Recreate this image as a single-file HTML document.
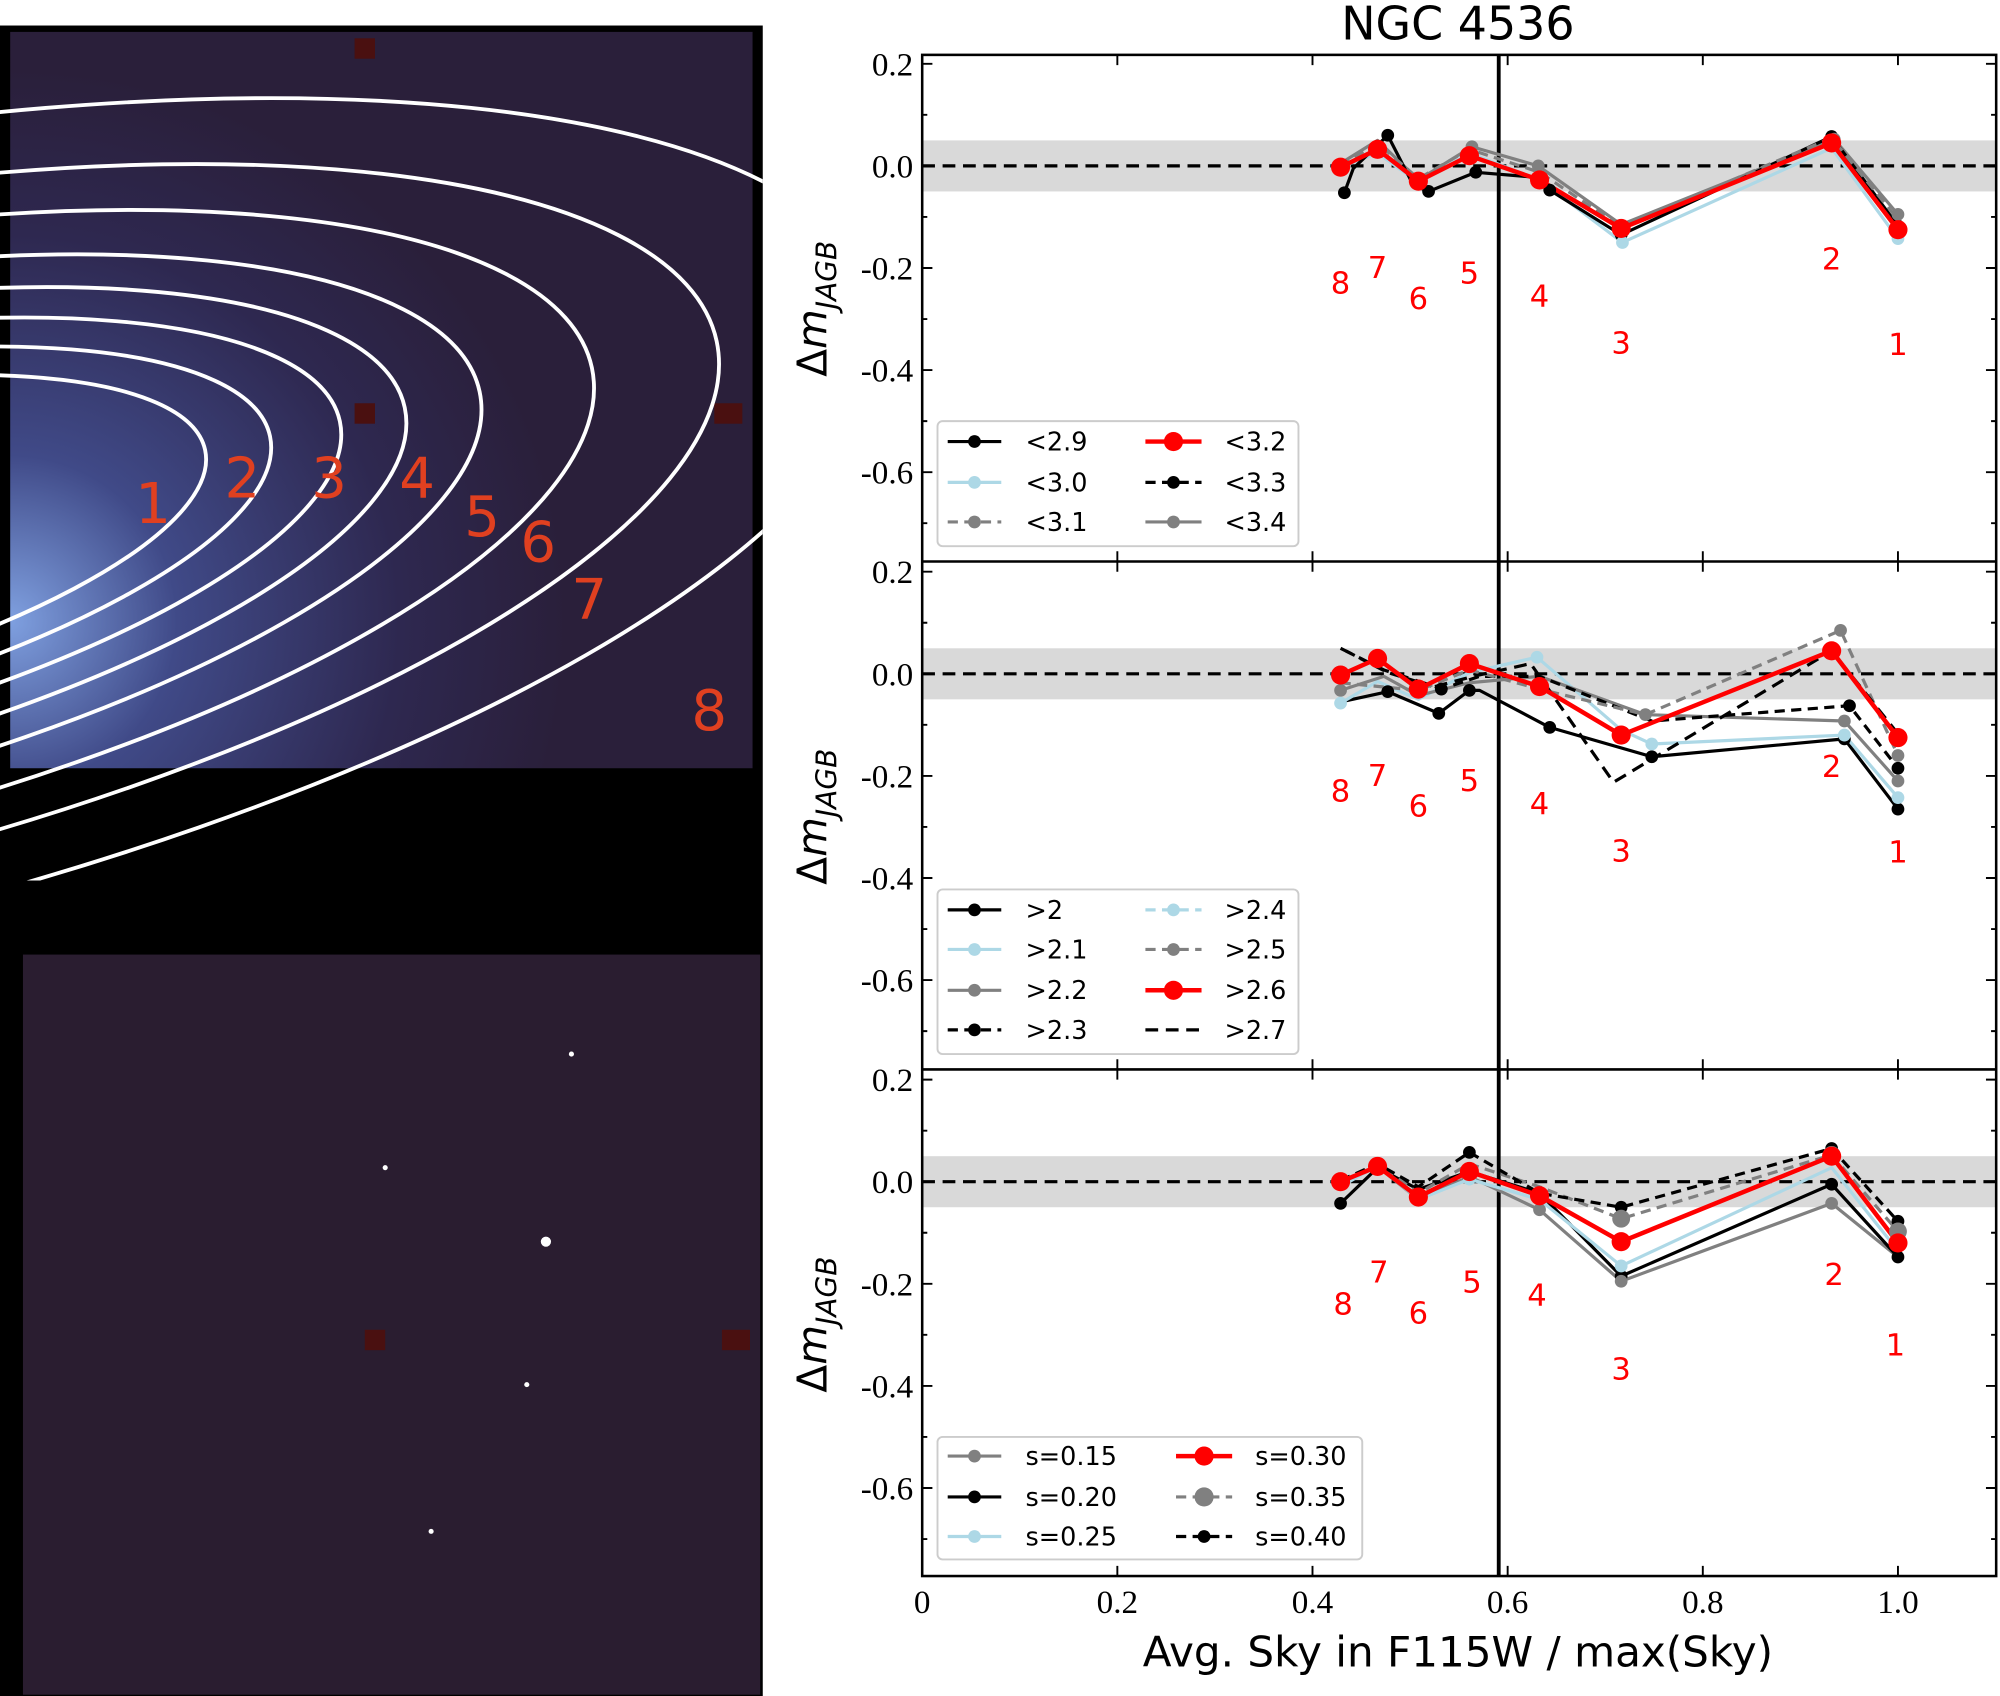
<!DOCTYPE html>
<html><head><meta charset="utf-8"><style>
html,body{margin:0;padding:0;background:#fff;}
svg{display:block;}
.t{font-family:"Liberation Serif",serif;font-size:26px;fill:#000;}
.s{font-family:"DejaVu Sans","Liberation Sans",sans-serif;}
.lg{font-family:"DejaVu Sans","Liberation Sans",sans-serif;font-size:20px;fill:#000;}
.rn{font-family:"DejaVu Sans","Liberation Sans",sans-serif;font-size:24px;fill:#f00;text-anchor:middle;}
</style></head><body>
<svg width="2000" height="1696" viewBox="0 0 1568 1329" preserveAspectRatio="none" xmlns="http://www.w3.org/2000/svg">
<defs>
<radialGradient id="glow" cx="0" cy="0.8" r="0.75">
<stop offset="0" stop-color="#7fa0e0"/><stop offset="0.3" stop-color="#404a88"/><stop offset="0.7" stop-color="#2e2850"/><stop offset="1" stop-color="#2a1f3a"/>
</radialGradient>
<clipPath id="cp"><rect x="0" y="20" width="598" height="670"/></clipPath>
</defs>
<rect x="0" y="20" width="598" height="1309" fill="#000"/>
<rect x="8" y="25" width="582" height="577" fill="url(#glow)"/>
<rect x="18" y="748" width="578" height="580" fill="#2a1d30"/>
<rect x="278" y="30" width="16" height="16" fill="#4a1010"/>
<rect x="278" y="316" width="16" height="16" fill="#4a1010"/>
<rect x="560" y="316" width="22" height="16" fill="#4a1010"/>
<rect x="286" y="1042" width="16" height="16" fill="#4a1010"/>
<rect x="566" y="1042" width="22" height="16" fill="#4a1010"/>
<g clip-path="url(#cp)" fill="none" stroke="#fff" stroke-width="3">
<g transform="rotate(-12 -250 440)">
<ellipse cx="-250" cy="440" rx="420" ry="120"/>
<ellipse cx="-250" cy="440" rx="472" ry="140"/>
<ellipse cx="-250" cy="440" rx="528" ry="160"/>
<ellipse cx="-250" cy="440" rx="580" ry="182"/>
<ellipse cx="-250" cy="440" rx="640" ry="205"/>
<ellipse cx="-250" cy="440" rx="730" ry="235"/>
<ellipse cx="-250" cy="440" rx="830" ry="265"/>
<ellipse cx="-250" cy="440" rx="960" ry="310"/>
</g></g>
<g class="s" font-size="44" fill="#e04020" text-anchor="middle">
<text x="120" y="410">1</text><text x="190" y="390">2</text><text x="258" y="390">3</text>
<text x="327" y="390">4</text><text x="378" y="420">5</text><text x="422" y="440">6</text>
<text x="462" y="485">7</text><text x="556" y="572">8</text></g>
<g fill="#fff"><circle cx="428" cy="973" r="4"/><circle cx="302" cy="915" r="2"/><circle cx="338" cy="1200" r="2"/><circle cx="448" cy="826" r="2"/><circle cx="413" cy="1085" r="2"/></g>

<text x="1143" y="31" class="s" font-size="36" text-anchor="middle">NGC 4536</text>
<g fill="#d9d9d9"><rect x="723" y="110" width="842" height="40"/><rect x="723" y="508" width="842" height="40"/><rect x="723" y="906" width="842" height="40"/></g>
<g stroke="#000" stroke-width="2.5" stroke-dasharray="10,6"><line x1="723" y1="130" x2="1565" y2="130"/><line x1="723" y1="528" x2="1565" y2="528"/><line x1="723" y1="926" x2="1565" y2="926"/></g>
<line x1="1175" y1="43" x2="1175" y2="1235" stroke="#000" stroke-width="3"/>

<g fill="none" stroke-width="2.5" stroke-linejoin="round">
<polyline stroke="#808080" points="1051,128 1080,110 1112,141 1154,115 1206,130 1271,176 1438,109 1488,168"/>
<polyline stroke="#add8e6" points="1051,131 1080,120 1112,143 1152,120 1207,141 1272,190 1436,116 1488,187"/>
<polyline stroke="#000" points="1054,151 1061,132 1088,106 1108,145 1120,150 1157,135 1205,139 1215,149 1271,184 1436,107 1488,177"/>
<polyline stroke="#808080" stroke-dasharray="8,5" points="1051,130 1080,112 1112,140 1152,117 1207,135 1271,178 1436,108 1488,172"/>
<polyline stroke="#000" points="1051,550 1088,542 1128,559 1152,541 1160,541 1215,570 1295,593 1446,579 1488,634"/>
<polyline stroke="#add8e6" points="1051,551 1080,534 1112,548 1152,527 1205,515 1271,572 1295,583 1446,576 1488,625"/>
<polyline stroke="#808080" points="1051,541 1085,530 1112,545 1152,535 1207,530 1290,560 1446,565 1488,612"/>
<polyline stroke="#000" stroke-dasharray="8,5" points="1055,510 1088,527 1130,540 1160,530 1207,530 1295,565 1450,553 1488,602"/>
<polyline stroke="#808080" stroke-dasharray="8,5" points="1051,535 1112,541 1152,525 1207,540 1290,560 1443,494 1488,592"/>
<polyline stroke="#000" stroke-dasharray="10,6" points="1051,508 1085,525 1125,538 1155,530 1200,520 1265,613 1436,510 1488,575"/>
<polyline stroke="#808080" points="1051,928 1080,914 1112,940 1152,922 1207,948 1271,1004 1436,943 1488,985"/>
<polyline stroke="#000" points="1051,943 1080,915 1112,932 1152,918 1207,935 1271,1000 1436,928 1488,985"/>
<polyline stroke="#add8e6" points="1051,930 1080,913 1112,940 1152,924 1207,940 1271,992 1436,915 1488,980"/>
<polyline stroke="#808080" stroke-dasharray="8,5" points="1051,925 1080,912 1112,935 1152,912 1207,930 1271,955 1436,905 1488,965"/>
<polyline stroke="#000" stroke-dasharray="8,5" points="1051,925 1080,912 1112,930 1152,903 1207,935 1271,946 1436,900 1488,957"/>
<polyline stroke="#f00" stroke-width="3.5" points="1051,131 1080,117 1112,142 1152,122 1207,141 1271,179 1436,112 1488,180"/>
<polyline stroke="#f00" stroke-width="3.5" points="1051,529 1080,516 1112,540 1152,520 1207,538 1271,576 1436,510 1488,578"/>
<polyline stroke="#f00" stroke-width="3.5" points="1051,926 1080,914 1112,938 1152,918 1207,937 1271,973 1436,906 1488,974"/>
</g>
<g fill="#000">
<circle cx="1054" cy="151" r="5"/><circle cx="1088" cy="106" r="5"/><circle cx="1120" cy="150" r="5"/><circle cx="1157" cy="135" r="5"/><circle cx="1215" cy="149" r="5"/><circle cx="1271" cy="184" r="5"/><circle cx="1436" cy="107" r="5"/><circle cx="1488" cy="177" r="5"/>
<circle cx="1088" cy="542" r="5"/><circle cx="1128" cy="559" r="5"/><circle cx="1152" cy="541" r="5"/><circle cx="1215" cy="570" r="5"/><circle cx="1295" cy="593" r="5"/><circle cx="1446" cy="579" r="5"/><circle cx="1488" cy="634" r="5"/>
<circle cx="1450" cy="553" r="5"/><circle cx="1488" cy="602" r="5"/><circle cx="1130" cy="540" r="5"/>
<circle cx="1051" cy="943" r="5"/><circle cx="1436" cy="928" r="5"/><circle cx="1488" cy="985" r="5"/><circle cx="1271" cy="1000" r="5"/>
<circle cx="1152" cy="903" r="5"/><circle cx="1271" cy="946" r="5"/><circle cx="1436" cy="900" r="5"/><circle cx="1488" cy="957" r="5"/>
</g>
<g fill="#808080">
<circle cx="1488" cy="168" r="5"/><circle cx="1438" cy="109" r="5"/><circle cx="1154" cy="115" r="5"/><circle cx="1206" cy="130" r="5"/>
<circle cx="1051" cy="541" r="5"/><circle cx="1446" cy="565" r="5"/><circle cx="1488" cy="612" r="5"/><circle cx="1290" cy="560" r="5"/><circle cx="1443" cy="494" r="5"/><circle cx="1488" cy="592" r="5"/>
<circle cx="1207" cy="948" r="5"/><circle cx="1436" cy="943" r="5"/><circle cx="1271" cy="1004" r="5"/>
<circle cx="1271" cy="955" r="7"/><circle cx="1436" cy="905" r="7"/><circle cx="1488" cy="965" r="7"/>
</g>
<g fill="#add8e6">
<circle cx="1272" cy="190" r="5"/><circle cx="1488" cy="187" r="5"/>
<circle cx="1051" cy="551" r="5"/><circle cx="1205" cy="515" r="5"/><circle cx="1295" cy="583" r="5"/><circle cx="1446" cy="576" r="5"/><circle cx="1488" cy="625" r="5"/>
<circle cx="1271" cy="992" r="5"/><circle cx="1152" cy="924" r="5"/>
</g>
<g fill="#f00">
<circle cx="1051" cy="131" r="7.5"/><circle cx="1080" cy="117" r="7.5"/><circle cx="1112" cy="142" r="7.5"/><circle cx="1152" cy="122" r="7.5"/><circle cx="1207" cy="141" r="7.5"/><circle cx="1271" cy="179" r="7.5"/><circle cx="1436" cy="112" r="7.5"/><circle cx="1488" cy="180" r="7.5"/>
<circle cx="1051" cy="529" r="7.5"/><circle cx="1080" cy="516" r="7.5"/><circle cx="1112" cy="540" r="7.5"/><circle cx="1152" cy="520" r="7.5"/><circle cx="1207" cy="538" r="7.5"/><circle cx="1271" cy="576" r="7.5"/><circle cx="1436" cy="510" r="7.5"/><circle cx="1488" cy="578" r="7.5"/>
<circle cx="1051" cy="926" r="7.5"/><circle cx="1080" cy="914" r="7.5"/><circle cx="1112" cy="938" r="7.5"/><circle cx="1152" cy="918" r="7.5"/><circle cx="1207" cy="937" r="7.5"/><circle cx="1271" cy="973" r="7.5"/><circle cx="1436" cy="906" r="7.5"/><circle cx="1488" cy="974" r="7.5"/>
</g>
<g class="rn">
<text x="1051" y="230">8</text><text x="1080" y="218">7</text><text x="1112" y="242">6</text><text x="1152" y="222">5</text><text x="1207" y="240">4</text><text x="1271" y="277">3</text><text x="1436" y="211">2</text><text x="1488" y="278">1</text>
<text x="1051" y="628">8</text><text x="1080" y="616">7</text><text x="1112" y="640">6</text><text x="1152" y="620">5</text><text x="1207" y="638">4</text><text x="1271" y="675">3</text><text x="1436" y="609">2</text><text x="1488" y="676">1</text>
<text x="1053" y="1030">8</text><text x="1081" y="1005">7</text><text x="1112" y="1037">6</text><text x="1154" y="1013">5</text><text x="1205" y="1023">4</text><text x="1271" y="1081">3</text><text x="1438" y="1007">2</text><text x="1486" y="1062">1</text>
</g>

<g fill="none" stroke="#000" stroke-width="2">
<rect x="723" y="43" width="842" height="1192"/>
<line x1="723" y1="440" x2="1565" y2="440"/><line x1="723" y1="838" x2="1565" y2="838"/>
</g>
<g stroke="#000" stroke-width="1.5">
<path d="M723 50h8M723 130h8M723 210h8M723 290h8M723 370h8 M1565 50h-8M1565 130h-8M1565 210h-8M1565 290h-8M1565 370h-8
M723 448h8M723 528h8M723 608h8M723 688h8M723 768h8 M1565 448h-8M1565 528h-8M1565 608h-8M1565 688h-8M1565 768h-8
M723 846h8M723 926h8M723 1006h8M723 1086h8M723 1166h8 M1565 846h-8M1565 926h-8M1565 1006h-8M1565 1086h-8M1565 1166h-8"/>
<path d="M723 90h4M723 170h4M723 250h4M723 330h4M723 410h4 M1565 90h-4M1565 170h-4M1565 250h-4M1565 330h-4M1565 410h-4
M723 488h4M723 568h4M723 648h4M723 728h4M723 808h4 M1565 488h-4M1565 568h-4M1565 648h-4M1565 728h-4M1565 808h-4
M723 886h4M723 966h4M723 1046h4M723 1126h4M723 1206h4 M1565 886h-4M1565 966h-4M1565 1046h-4M1565 1126h-4M1565 1206h-4"/>
<path d="M876 1235v-8M1029 1235v-8M1182 1235v-8M1335 1235v-8M1488 1235v-8 M876 43v8M1029 43v8M1182 43v8M1335 43v8M1488 43v8
M876 440v-8M1029 440v-8M1182 440v-8M1335 440v-8M1488 440v-8 M876 440v8M1029 440v8M1182 440v8M1335 440v8M1488 440v8
M876 838v-8M1029 838v-8M1182 838v-8M1335 838v-8M1488 838v-8 M876 838v8M1029 838v8M1182 838v8M1335 838v8M1488 838v8"/>
</g>
<g class="t" text-anchor="end">
<text x="716" y="59">0.2</text><text x="716" y="139">0.0</text><text x="716" y="219">-0.2</text><text x="716" y="299">-0.4</text><text x="716" y="379">-0.6</text>
<text x="716" y="457">0.2</text><text x="716" y="537">0.0</text><text x="716" y="617">-0.2</text><text x="716" y="697">-0.4</text><text x="716" y="777">-0.6</text>
<text x="716" y="855">0.2</text><text x="716" y="935">0.0</text><text x="716" y="1015">-0.2</text><text x="716" y="1095">-0.4</text><text x="716" y="1175">-0.6</text>
</g>
<g class="t" text-anchor="middle">
<text x="723" y="1264">0</text><text x="876" y="1264">0.2</text><text x="1029" y="1264">0.4</text><text x="1182" y="1264">0.6</text><text x="1335" y="1264">0.8</text><text x="1488" y="1264">1.0</text>
</g>
<text x="1143" y="1306" class="s" font-size="33" text-anchor="middle">Avg. Sky in F115W / max(Sky)</text>
<g class="s" font-size="32">
<text transform="translate(648,242) rotate(-90)" text-anchor="middle">Δ<tspan font-style="italic">m</tspan><tspan font-size="22" font-style="italic" dy="8">JAGB</tspan></text>
<text transform="translate(648,640) rotate(-90)" text-anchor="middle">Δ<tspan font-style="italic">m</tspan><tspan font-size="22" font-style="italic" dy="8">JAGB</tspan></text>
<text transform="translate(648,1038) rotate(-90)" text-anchor="middle">Δ<tspan font-style="italic">m</tspan><tspan font-size="22" font-style="italic" dy="8">JAGB</tspan></text>
</g>

<g fill="#fff" stroke="#ccc" stroke-width="1.5">
<rect x="735" y="330" width="283" height="98" rx="4"/>
<rect x="735" y="697" width="283" height="129" rx="4"/>
<rect x="735" y="1126" width="333" height="96" rx="4"/>
</g>
<g stroke-width="2.5">
<line x1="743" y1="346" x2="785" y2="346" stroke="#000"/><circle cx="764" cy="346" r="5"/>
<line x1="743" y1="378" x2="785" y2="378" stroke="#add8e6"/><circle cx="764" cy="378" r="5" fill="#add8e6"/>
<line x1="743" y1="409" x2="785" y2="409" stroke="#808080" stroke-dasharray="8,5"/><circle cx="764" cy="409" r="5" fill="#808080"/>
<line x1="898" y1="346" x2="942" y2="346" stroke="#f00" stroke-width="3.5"/><circle cx="920" cy="346" r="7.5" fill="#f00"/>
<line x1="898" y1="378" x2="942" y2="378" stroke="#000" stroke-dasharray="8,5"/><circle cx="920" cy="378" r="5"/>
<line x1="898" y1="409" x2="942" y2="409" stroke="#808080"/><circle cx="920" cy="409" r="5" fill="#808080"/>
<line x1="743" y1="713" x2="785" y2="713" stroke="#000"/><circle cx="764" cy="713" r="5"/>
<line x1="743" y1="744" x2="785" y2="744" stroke="#add8e6"/><circle cx="764" cy="744" r="5" fill="#add8e6"/>
<line x1="743" y1="776" x2="785" y2="776" stroke="#808080"/><circle cx="764" cy="776" r="5" fill="#808080"/>
<line x1="743" y1="807" x2="785" y2="807" stroke="#000" stroke-dasharray="8,5"/><circle cx="764" cy="807" r="5"/>
<line x1="898" y1="713" x2="942" y2="713" stroke="#add8e6" stroke-dasharray="8,5"/><circle cx="920" cy="713" r="5" fill="#add8e6"/>
<line x1="898" y1="744" x2="942" y2="744" stroke="#808080" stroke-dasharray="8,5"/><circle cx="920" cy="744" r="5" fill="#808080"/>
<line x1="898" y1="776" x2="942" y2="776" stroke="#f00" stroke-width="3.5"/><circle cx="920" cy="776" r="7.5" fill="#f00"/>
<line x1="898" y1="807" x2="942" y2="807" stroke="#000" stroke-dasharray="10,6"/>
<line x1="743" y1="1141" x2="785" y2="1141" stroke="#808080"/><circle cx="764" cy="1141" r="5" fill="#808080"/>
<line x1="743" y1="1173" x2="785" y2="1173" stroke="#000"/><circle cx="764" cy="1173" r="5"/>
<line x1="743" y1="1204" x2="785" y2="1204" stroke="#add8e6"/><circle cx="764" cy="1204" r="5" fill="#add8e6"/>
<line x1="922" y1="1141" x2="966" y2="1141" stroke="#f00" stroke-width="3.5"/><circle cx="944" cy="1141" r="7.5" fill="#f00"/>
<line x1="922" y1="1173" x2="966" y2="1173" stroke="#808080" stroke-dasharray="8,5"/><circle cx="944" cy="1173" r="7.5" fill="#808080"/>
<line x1="922" y1="1204" x2="966" y2="1204" stroke="#000" stroke-dasharray="8,5"/><circle cx="944" cy="1204" r="5"/>
</g>
<g class="lg">
<text x="804" y="353">&lt;2.9</text><text x="804" y="385">&lt;3.0</text><text x="804" y="416">&lt;3.1</text>
<text x="960" y="353">&lt;3.2</text><text x="960" y="385">&lt;3.3</text><text x="960" y="416">&lt;3.4</text>
<text x="804" y="720">&gt;2</text><text x="804" y="751">&gt;2.1</text><text x="804" y="783">&gt;2.2</text><text x="804" y="814">&gt;2.3</text>
<text x="960" y="720">&gt;2.4</text><text x="960" y="751">&gt;2.5</text><text x="960" y="783">&gt;2.6</text><text x="960" y="814">&gt;2.7</text>
<text x="804" y="1148">s=0.15</text><text x="804" y="1180">s=0.20</text><text x="804" y="1211">s=0.25</text>
<text x="984" y="1148">s=0.30</text><text x="984" y="1180">s=0.35</text><text x="984" y="1211">s=0.40</text>
</g>
</svg>
</body></html>
